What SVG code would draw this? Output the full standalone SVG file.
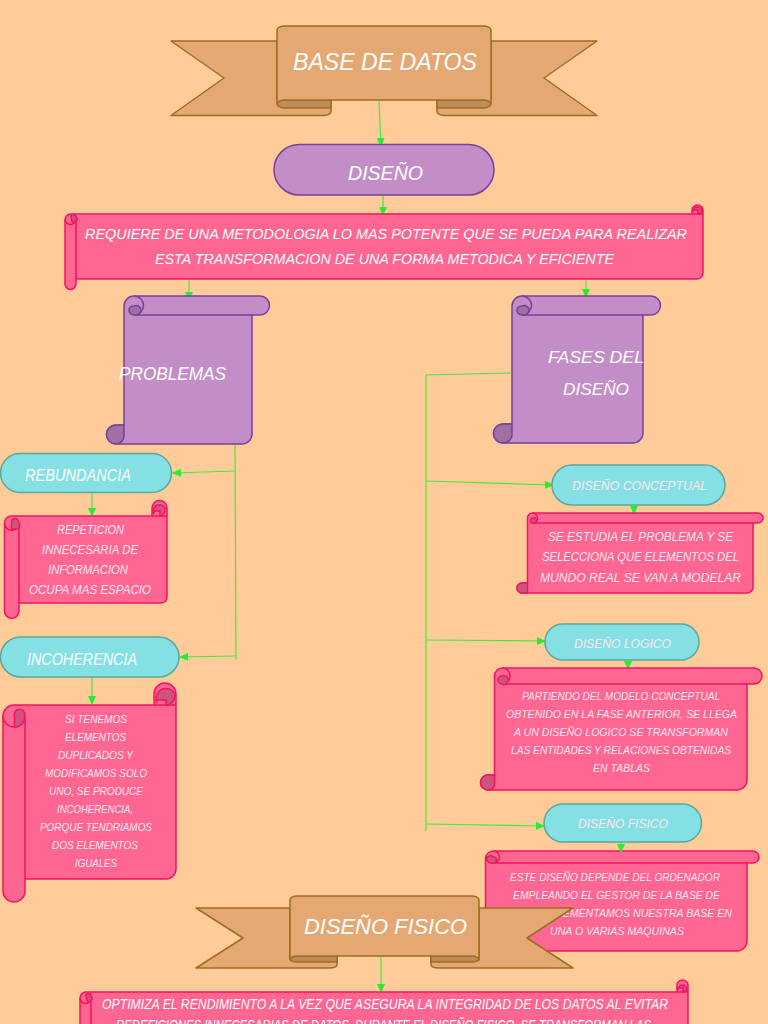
<svg xmlns="http://www.w3.org/2000/svg" width="768" height="1024" viewBox="0 0 768 1024">
<defs>
<marker id="ah" markerWidth="9" markerHeight="8" refX="8" refY="4" orient="auto" markerUnits="userSpaceOnUse"><path d="M0,0L9,4L0,8Z" fill="#22ee33"/></marker>
</defs>
<style>
text{font-family:"Liberation Sans","DejaVu Sans",sans-serif;font-style:italic;fill:#fff;text-anchor:start}
.s{fill:#ffe6ee}
.c{fill:none;stroke:#44e844;stroke-width:1.2}
.a{marker-end:url(#ah)}
.tan{fill:#e6a872;stroke:#9c6e1f;stroke-width:1.5;stroke-linejoin:round}
.tand{fill:#c08b5c;stroke:#9c6e1f;stroke-width:1.5}
.pur{fill:#c38ec7;stroke:#7a3f9d;stroke-width:1.5}
.purd{fill:#a070a5;stroke:#7a3f9d;stroke-width:1.5}
.pnk{fill:#ff6692;stroke:#f5135f;stroke-width:1.5}
.pnkd{fill:#cc5580;stroke:#f5135f;stroke-width:1.5}
.tea{fill:#85e0e4;stroke:#5aa89a;stroke-width:1.5}
.ln{fill:none}
</style>
<rect width="768" height="1024" fill="#ffcc99"/>

<g id="fases-fisico-texto">
<path class="pnk" d="M485.500,859a8,8 0 0 1 8,-8H753a6,6 0 0 1 0,12H747V941a10,10 0 0 1 -10,10H480a6,6 0 0 1 0,-12H485.500Z"/>
<path class="ln pnk" d="M493.500,863H747M493.500,851a6,6 0 0 1 0,12"/>
<path class="pnkd" d="M493.500,857a3,3 0 0 1 3,3a4,3 0 0 1 -3,3a5,3 0 0 1 -6,-2a4,3 0 0 1 6,-4Z"/>
<text class="s" x="510" y="881" font-size="11.500" textLength="210" lengthAdjust="spacingAndGlyphs">ESTE DISEÑO DEPENDE DEL ORDENADOR</text>
<text class="s" x="513" y="899" font-size="11.500" textLength="207" lengthAdjust="spacingAndGlyphs">EMPLEANDO EL GESTOR DE LA BASE DE</text>
<text class="s" x="538" y="917" font-size="11.500" textLength="194" lengthAdjust="spacingAndGlyphs">IMPLEMENTAMOS NUESTRA BASE EN</text>
<text class="s" x="550" y="935" font-size="11.500" textLength="134" lengthAdjust="spacingAndGlyphs">UNA O VARIAS MAQUINAS</text>
</g>

<g id="conectores">
<path class="c a" d="M379,101L381,146"/>
<path class="c a" d="M383,195V215"/>
<path class="c a" d="M189,280V300"/>
<path class="c a" d="M586,280V297"/>
<path class="c" d="M235,444L236,660"/>
<path class="c a" d="M235,471L173,473"/>
<path class="c a" d="M236,656L180,657"/>
<path class="c a" d="M92,493V516"/>
<path class="c a" d="M92,677V704"/>
<path class="c" d="M511,373L426,375V831"/>
<path class="c a" d="M426,481L553,485"/>
<path class="c a" d="M427,640L545,641"/>
<path class="c a" d="M426,824L544,826"/>
<path class="c a" d="M634,505V514"/>
<path class="c a" d="M628,660V669"/>
<path class="c a" d="M621,842V852"/>
<path class="c a" d="M381,957V992"/>
</g>

<g id="base-de-datos">
<path class="tan" d="M277,41H171L224,78L171,115.500H323a8,4 0 0 0 8,-4V100H277Z"/>
<path class="tan" d="M491,41H597L544,78L597,115.500H445a8,4 0 0 1 -8,-4V100H491Z"/>
<path class="tand" d="M331,100V108H285a8,4 0 0 1 0,-8Z"/>
<path class="tand" d="M437,100V108H483a8,4 0 0 0 0,-8Z"/>
<path class="tan" d="M285,26H483a8,4 0 0 1 8,4V104a8,4 0 0 0 -8,-4H285a8,4 0 0 0 -8,4V30a8,4 0 0 1 8,-4Z"/>
<text x="293" y="70" font-size="24" textLength="184" lengthAdjust="spacingAndGlyphs">BASE DE DATOS</text>
</g>

<g id="diseno">
<rect class="pur" x="274" y="144.500" width="220" height="50.500" rx="25.200"/>
<text x="348" y="180" font-size="20" textLength="75" lengthAdjust="spacingAndGlyphs">DISEÑO</text>
</g>

<g id="requiere">
<path class="pnk" d="M76,214H692V210a5.500,5 0 0 1 11,0V273a6,6 0 0 1 -6,6H76V284a5.500,5.500 0 0 1 -11,0V220a5.500,6 0 0 1 5.500,-6H76Z"/>
<path class="ln pnk" d="M76,219V279M692,214H703M65,219a5.500,5.500 0 0 0 11,0"/>
<path class="pnkd" d="M71,217a2.500,2.500 0 0 1 5,0a3,3 0 0 1 -4,4.500Z"/>
<path class="pnkd" d="M693,212a4.500,4.500 0 0 1 9,-1a4,3 0 0 1 -4,3V210H693Z"/>
<text x="85" y="239" font-size="15.500" textLength="602" lengthAdjust="spacingAndGlyphs">REQUIERE DE UNA METODOLOGIA LO MAS POTENTE QUE SE PUEDA PARA REALIZAR</text>
<text x="155" y="264" font-size="15.500" textLength="459" lengthAdjust="spacingAndGlyphs">ESTA TRANSFORMACION DE UNA FORMA METODICA Y EFICIENTE</text>
</g>

<g id="problemas">
<path class="pur" d="M124,306a10,10 0 0 1 10,-10H260a9.500,9.500 0 0 1 0,19H252V434a10,10 0 0 1 -10,10H116a9.500,9.500 0 0 1 0,-19H124Z"/>
<path class="ln pur" d="M134,315H252M134,296a9.500,9.500 0 0 1 0,19"/>
<path class="purd" d="M134,306a5,4.500 0 0 1 7,4.500a6,5 0 0 1 -7,4.500a6,5 0 0 1 -5,-5a5,4 0 0 1 5,-4Z"/>
<path class="purd" d="M116,425h8v11a9,8 0 0 1 -8,8a9.500,9.500 0 0 1 0,-19Z"/>
<text x="119" y="380" font-size="18" textLength="107" lengthAdjust="spacingAndGlyphs">PROBLEMAS</text>
</g>

<g id="fases">
<path class="pur" d="M512,306a10,10 0 0 1 10,-10H651a9.500,9.500 0 0 1 0,19H643V433a10,10 0 0 1 -10,10H503a9.500,9.500 0 0 1 0,-19H512Z"/>
<path class="ln pur" d="M522,315H643M522,296a9.500,9.500 0 0 1 0,19"/>
<path class="purd" d="M522,306a5,4.500 0 0 1 7,4.500a6,5 0 0 1 -7,4.500a6,5 0 0 1 -5,-5a5,4 0 0 1 5,-4Z"/>
<path class="purd" d="M503,424h9v11a9,8 0 0 1 -9,8a9.500,9.500 0 0 1 0,-19Z"/>
<text x="548" y="363" font-size="17" textLength="96" lengthAdjust="spacingAndGlyphs">FASES DEL</text>
<text x="563" y="395" font-size="17" textLength="66" lengthAdjust="spacingAndGlyphs">DISEÑO</text>
</g>

<g id="rebundancia">
<rect class="tea" x="0.500" y="453.500" width="171" height="39" rx="19.500"/>
<text x="25" y="481" font-size="16" textLength="106" lengthAdjust="spacingAndGlyphs">REBUNDANCIA</text>
</g>
<g id="repeticion">
<path class="pnk" d="M19,516H152V508a7.500,7.500 0 0 1 15,0V597a6,6 0 0 1 -6,6H19V611a7,7 0 0 1 -14.500,0V523a7,7 0 0 1 7,-7H19Z"/>
<path class="ln pnk" d="M19,523V603M152,516H167M4.500,523a7,7 0 0 0 14.500,0"/>
<path class="pnkd" d="M11.500,522a3.500,3.500 0 0 1 7,0a3.500,4 0 0 1 -3,7H11.500Z"/>
<path class="pnkd" d="M154,514a6,6 0 0 1 11,-6a6,7 0 0 1 -5,8V511H154Z"/>
<text class="s" x="57" y="534" font-size="12.500" textLength="67" lengthAdjust="spacingAndGlyphs">REPETICION</text>
<text class="s" x="42" y="554" font-size="12.500" textLength="96" lengthAdjust="spacingAndGlyphs">INNECESARIA DE</text>
<text class="s" x="48" y="574" font-size="12.500" textLength="80" lengthAdjust="spacingAndGlyphs">INFORMACION</text>
<text class="s" x="29" y="594" font-size="12.500" textLength="122" lengthAdjust="spacingAndGlyphs">OCUPA MAS ESPACIO</text>
</g>

<g id="incoherencia">
<rect class="tea" x="0.500" y="637" width="178.500" height="40" rx="20"/>
<text x="27" y="665" font-size="16" textLength="110" lengthAdjust="spacingAndGlyphs">INCOHERENCIA</text>
</g>
<g id="si-tenemos">
<path class="pnk" d="M25,705H154V694a11,11 0 0 1 22,0V869a10,10 0 0 1 -10,10H25V891a11,11 0 0 1 -22,0V716a11,11 0 0 1 11,-11H25Z"/>
<path class="ln pnk" d="M25,716V879M154,705H176M3,716a11,11 0 0 0 22,0"/>
<path class="pnkd" d="M14.500,716V716a5,5 0 0 1 10,-3V716a9,10 0 0 1 -10,11Z"/>
<path class="pnkd" d="M157,703a9,9 0 0 1 18,-9a9,10 0 0 1 -9,11V700H157Z"/>
<text class="s" x="65" y="723" font-size="11" textLength="62" lengthAdjust="spacingAndGlyphs">SI TENEMOS</text>
<text class="s" x="65" y="741" font-size="11" textLength="61" lengthAdjust="spacingAndGlyphs">ELEMENTOS</text>
<text class="s" x="58" y="759" font-size="11" textLength="75" lengthAdjust="spacingAndGlyphs">DUPLICADOS Y</text>
<text class="s" x="45" y="777" font-size="11" textLength="102" lengthAdjust="spacingAndGlyphs">MODIFICAMOS SOLO</text>
<text class="s" x="49" y="795" font-size="11" textLength="94" lengthAdjust="spacingAndGlyphs">UNO, SE PRODUCE</text>
<text class="s" x="57" y="813" font-size="11" textLength="76" lengthAdjust="spacingAndGlyphs">INCOHERENCIA,</text>
<text class="s" x="40" y="831" font-size="11" textLength="112" lengthAdjust="spacingAndGlyphs">PORQUE TENDRIAMOS</text>
<text class="s" x="52" y="849" font-size="11" textLength="86" lengthAdjust="spacingAndGlyphs">DOS ELEMENTOS</text>
<text class="s" x="75" y="867" font-size="11" textLength="42" lengthAdjust="spacingAndGlyphs">IGUALES</text>
</g>

<g id="diseno-conceptual">
<rect class="tea" x="552" y="465" width="173" height="40" rx="20"/>
<text class="s" x="572" y="490" font-size="13" textLength="135" lengthAdjust="spacingAndGlyphs">DISEÑO CONCEPTUAL</text>
</g>
<g id="conceptual-texto">
<path class="pnk" d="M527.500,518a5,5 0 0 1 5,-5H758a5,5 0 0 1 0,10H753V587a6,6 0 0 1 -6,6H522a5,5 0 0 1 0,-10H527.500Z"/>
<path class="ln pnk" d="M532,523H753M532.500,513a5,5 0 0 1 0,10"/>
<path class="pnkd" d="M532.500,518a2.500,2 0 0 1 2,5h-3a3,3 0 0 1 1,-5Z"/>
<path class="pnkd" d="M522,583h5.500v10H522a5,5 0 0 1 0,-10Z"/>
<text class="s" x="548" y="541" font-size="12.500" textLength="185" lengthAdjust="spacingAndGlyphs">SE ESTUDIA EL PROBLEMA Y SE</text>
<text class="s" x="542" y="561" font-size="12.500" textLength="197" lengthAdjust="spacingAndGlyphs">SELECCIONA QUE ELEMENTOS DEL</text>
<text class="s" x="540" y="582" font-size="12.500" textLength="201" lengthAdjust="spacingAndGlyphs">MUNDO REAL SE VAN A MODELAR</text>
</g>

<g id="diseno-logico">
<rect class="tea" x="545" y="624" width="154" height="36" rx="18"/>
<text class="s" x="574" y="648" font-size="12" textLength="97" lengthAdjust="spacingAndGlyphs">DISEÑO LOGICO</text>
</g>
<g id="logico-texto">
<path class="pnk" d="M494.500,676a8,8 0 0 1 8,-8H754a8,8 0 0 1 0,16H747V780a10,10 0 0 1 -10,10H488a7.500,7.500 0 0 1 0,-15H494.500Z"/>
<path class="ln pnk" d="M502,684H747M502,668a8,8 0 0 1 0,16"/>
<path class="pnkd" d="M502,676a4,4 0 0 1 6,3a4,5 0 0 1 -6,5a4,4 0 0 1 -4,-4a4,4 0 0 1 4,-4Z"/>
<path class="pnkd" d="M488,775h6.500v10a7,7 0 0 1 -6.500,5a7.500,7.500 0 0 1 0,-15Z"/>
<text class="s" x="522" y="700" font-size="11.500" textLength="198" lengthAdjust="spacingAndGlyphs">PARTIENDO DEL MODELO CONCEPTUAL</text>
<text class="s" x="506" y="718" font-size="11.500" textLength="231" lengthAdjust="spacingAndGlyphs">OBTENIDO EN LA FASE ANTERIOR, SE LLEGA</text>
<text class="s" x="514" y="736" font-size="11.500" textLength="214" lengthAdjust="spacingAndGlyphs">A UN DISEÑO LOGICO  SE TRANSFORMAN</text>
<text class="s" x="511" y="754" font-size="11.500" textLength="220" lengthAdjust="spacingAndGlyphs">LAS ENTIDADES Y RELACIONES OBTENIDAS</text>
<text class="s" x="593" y="772" font-size="11.500" textLength="57" lengthAdjust="spacingAndGlyphs">EN TABLAS</text>
</g>

<g id="diseno-fisico">
<rect class="tea" x="544" y="804" width="157.500" height="38" rx="19"/>
<text class="s" x="578" y="828" font-size="12" textLength="90" lengthAdjust="spacingAndGlyphs">DISEÑO FISICO</text>
</g>

<g id="diseno-fisico-banner">
<path class="tan" d="M290,908H196L243,938L196,968H330a7,3 0 0 0 7,-3V957H290Z"/>
<path class="tan" d="M479,908H573L527,938L573,968H438a7,3 0 0 1 -7,-3V957H479Z"/>
<path class="tand" d="M337,957V962H297a7,3 0 0 1 0,-6H337Z"/>
<path class="tand" d="M431,957V962H472a7,3 0 0 0 0,-6H431Z"/>
<path class="tan" d="M297,896H472a7,4 0 0 1 7,4V960a7,4 0 0 0 -7,-4H297a7,4 0 0 0 -7,4V900a7,4 0 0 1 7,-4Z"/>
<text x="304" y="934" font-size="22" textLength="163" lengthAdjust="spacingAndGlyphs">DISEÑO FISICO</text>
</g>

<g id="optimiza">
<path class="pnk" d="M91,992H677V985a5.500,5 0 0 1 11,0V1040H80V998a5.500,6 0 0 1 5.500,-6H91Z"/>
<path class="ln pnk" d="M91,998V1040M677,992H688M80,998a5.500,5.500 0 0 0 11,0"/>
<path class="pnkd" d="M86,996a2.500,2.500 0 0 1 5,0a3,3 0 0 1 -4,4.500Z"/>
<path class="pnkd" d="M678,990a4.500,4.500 0 0 1 9,-1a4,3 0 0 1 -4,3V988H678Z"/>
<text x="102" y="1009" font-size="14" textLength="566" lengthAdjust="spacingAndGlyphs">OPTIMIZA EL RENDIMIENTO A  LA VEZ QUE ASEGURA LA INTEGRIDAD DE LOS DATOS AL EVITAR</text>
<text x="116" y="1030" font-size="14" textLength="535" lengthAdjust="spacingAndGlyphs">REDEFICIONES INNECESARIAS DE DATOS. DURANTE EL DISEÑO FISICO, SE TRANSFORMAN LAS</text>
</g>
</svg>
